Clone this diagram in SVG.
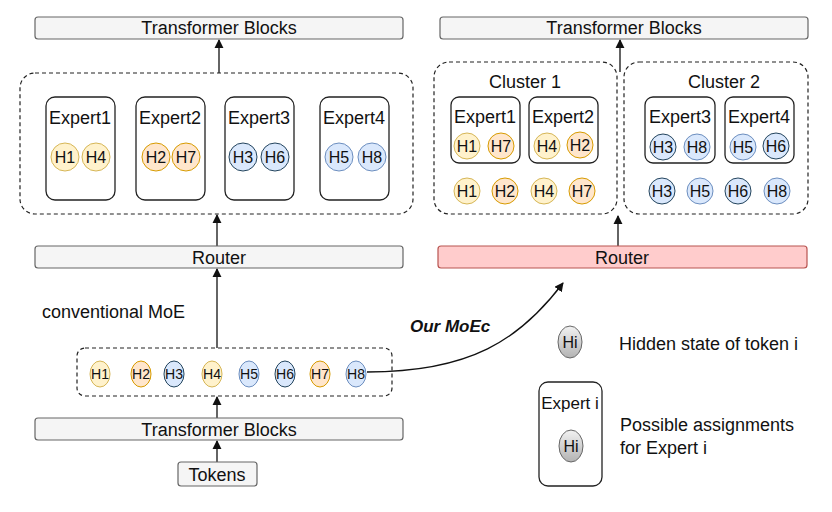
<svg xmlns="http://www.w3.org/2000/svg" width="832" height="512" viewBox="0 0 832 512">
<style>
text{font-family:"Liberation Sans",Arial,sans-serif;fill:#111}
.bar{fill:#f5f5f5;stroke:#666;stroke-width:1.2}
.dash{fill:none;stroke:#222;stroke-width:1.2;stroke-dasharray:4 3}
.ex{fill:#fff;stroke:#222;stroke-width:1.3}
.y{fill:#fff2cc;stroke:#d6b656}
.o{fill:#ffe6cc;stroke:#d79b00}
.b{fill:#dae8fc;stroke:#23445d}
.l{fill:#dae8fc;stroke:#6c8ebf}
.g{fill:url(#gg);stroke:#666}
.t16{font-size:18px;text-anchor:middle}
.h{font-size:16px;text-anchor:middle}
.k{font-size:15px;text-anchor:middle}
.lg{font-size:18px}
.c{stroke:#111;stroke-width:1.3;fill:none;marker-end:url(#ah)}
</style>
<defs>
<marker id="ah" viewBox="0 0 10 10" refX="9" refY="5" markerWidth="7" markerHeight="7" orient="auto"><path d="M0,0 L10,5 L0,10 z" fill="#111"/></marker>
<linearGradient id="gg" x1="0" y1="0" x2="0" y2="1"><stop offset="0" stop-color="#f2f2f2"/><stop offset="1" stop-color="#b3b3b3"/></linearGradient>
</defs>
<g id="connectors">
<path class="c" d="M219,73 V40"/>
<path class="c" d="M217,246 V215"/>
<path class="c" d="M217,348 V269"/>
<path class="c" d="M217,418 V397"/>
<path class="c" d="M217,462 V441"/>
<path class="c" d="M620,72 V40"/>
<path class="c" d="M618,246 V216"/>
<path class="c" d="M367,372 C470,372 520,340 563,283"/>
</g>
<g id="tb-left"><rect class="bar" x="35" y="17" width="368" height="22" rx="3"/><text class="t16" x="219" y="34">Transformer Blocks</text></g>
<g id="moe-left">
<rect class="dash" x="20" y="73" width="393" height="141" rx="15"/>
<g id="e1"><rect class="ex" x="46" y="97" width="69" height="103" rx="9"/><text class="t16" x="80" y="124">Expert1</text>
<circle class="y" cx="65" cy="157" r="14"/><text class="h" x="65" y="163">H1</text><circle class="y" cx="96" cy="157" r="14"/><text class="h" x="96" y="163">H4</text></g>
<g id="e2"><rect class="ex" x="136" y="97" width="69" height="103" rx="9"/><text class="t16" x="170" y="124">Expert2</text>
<circle class="o" cx="156" cy="157" r="14"/><text class="h" x="156" y="163">H2</text><circle class="o" cx="186" cy="157" r="14"/><text class="h" x="186" y="163">H7</text></g>
<g id="e3"><rect class="ex" x="225" y="97" width="69" height="103" rx="9"/><text class="t16" x="259" y="124">Expert3</text>
<circle class="b" cx="243" cy="157" r="14"/><text class="h" x="243" y="163">H3</text><circle class="b" cx="275" cy="157" r="14"/><text class="h" x="275" y="163">H6</text></g>
<g id="e4"><rect class="ex" x="320" y="97" width="69" height="103" rx="9"/><text class="t16" x="354" y="124">Expert4</text>
<circle class="l" cx="339" cy="157" r="14"/><text class="h" x="339" y="163">H5</text><circle class="l" cx="372" cy="157" r="14"/><text class="h" x="372" y="163">H8</text></g>
</g>
<g id="router-left"><rect class="bar" x="35" y="246" width="368" height="22" rx="3"/><text class="t16" x="219" y="264">Router</text></g>
<text class="lg" x="42" y="318">conventional MoE</text>
<g id="tokens-hidden">
<rect class="dash" x="77" y="348" width="315" height="48" rx="8"/>
<ellipse class="y" cx="100" cy="374" rx="10" ry="13"/><text class="k" x="100" y="379" textLength="18" lengthAdjust="spacingAndGlyphs">H1</text>
<ellipse class="o" cx="141" cy="374" rx="10" ry="13"/><text class="k" x="141" y="379" textLength="18" lengthAdjust="spacingAndGlyphs">H2</text>
<ellipse class="b" cx="174" cy="374" rx="10" ry="13"/><text class="k" x="174" y="379" textLength="18" lengthAdjust="spacingAndGlyphs">H3</text>
<ellipse class="y" cx="212" cy="374" rx="10" ry="13"/><text class="k" x="212" y="379" textLength="18" lengthAdjust="spacingAndGlyphs">H4</text>
<ellipse class="l" cx="249" cy="374" rx="10" ry="13"/><text class="k" x="249" y="379" textLength="18" lengthAdjust="spacingAndGlyphs">H5</text>
<ellipse class="b" cx="285" cy="374" rx="10" ry="13"/><text class="k" x="285" y="379" textLength="18" lengthAdjust="spacingAndGlyphs">H6</text>
<ellipse class="o" cx="320" cy="374" rx="10" ry="13"/><text class="k" x="320" y="379" textLength="18" lengthAdjust="spacingAndGlyphs">H7</text>
<ellipse class="l" cx="356" cy="374" rx="10" ry="13"/><text class="k" x="356" y="379" textLength="18" lengthAdjust="spacingAndGlyphs">H8</text>
</g>
<g id="tb-bottom"><rect class="bar" x="35" y="418" width="368" height="22" rx="3"/><text class="t16" x="219" y="436">Transformer Blocks</text></g>
<g id="tokens"><rect class="bar" x="178" y="462" width="79" height="24" rx="3"/><text class="t16" x="217" y="481">Tokens</text></g>
<g id="tb-right"><rect class="bar" x="440" y="17" width="368" height="22" rx="3"/><text class="t16" x="624" y="34">Transformer Blocks</text></g>
<g id="cluster1">
<rect class="dash" x="434" y="62" width="183" height="152" rx="15"/>
<text class="t16" x="525" y="88">Cluster 1</text>
<rect class="ex" x="451" y="97" width="69" height="66" rx="8"/><text class="t16" x="485" y="123">Expert1</text>
<circle class="y" cx="467" cy="146" r="13"/><text class="h" x="467" y="152">H1</text><circle class="o" cx="501" cy="146" r="13"/><text class="h" x="501" y="152">H7</text>
<rect class="ex" x="529" y="97" width="69" height="66" rx="8"/><text class="t16" x="563" y="123">Expert2</text>
<circle class="y" cx="547" cy="146" r="13"/><text class="h" x="547" y="152">H4</text><circle class="o" cx="580" cy="145" r="13"/><text class="h" x="580" y="151">H2</text>
<circle class="y" cx="467" cy="191" r="13"/><text class="h" x="467" y="197">H1</text>
<circle class="o" cx="505" cy="191" r="13"/><text class="h" x="505" y="197">H2</text>
<circle class="y" cx="544" cy="191" r="13"/><text class="h" x="544" y="197">H4</text>
<circle class="o" cx="582" cy="191" r="13"/><text class="h" x="582" y="197">H7</text>
</g>
<g id="cluster2">
<rect class="dash" x="624" y="62" width="184" height="152" rx="15"/>
<text class="t16" x="724" y="88">Cluster 2</text>
<rect class="ex" x="645" y="97" width="70" height="66" rx="8"/><text class="t16" x="680" y="123">Expert3</text>
<circle class="b" cx="663" cy="147" r="13"/><text class="h" x="663" y="153">H3</text><circle class="l" cx="697" cy="147" r="13"/><text class="h" x="697" y="153">H8</text>
<rect class="ex" x="725" y="97" width="69" height="66" rx="8"/><text class="t16" x="759" y="123">Expert4</text>
<circle class="l" cx="743" cy="147" r="13"/><text class="h" x="743" y="153">H5</text><circle class="b" cx="776" cy="146" r="13"/><text class="h" x="776" y="152">H6</text>
<circle class="b" cx="662" cy="191" r="13"/><text class="h" x="662" y="197">H3</text>
<circle class="l" cx="700" cy="191" r="13"/><text class="h" x="700" y="197">H5</text>
<circle class="b" cx="738" cy="191" r="13"/><text class="h" x="738" y="197">H6</text>
<circle class="l" cx="777" cy="191" r="13"/><text class="h" x="777" y="197">H8</text>
</g>
<g id="router-right"><rect x="438" y="246" width="369" height="22" rx="3" fill="#ffcccc" stroke="#b85450" stroke-width="1.2"/><text class="t16" x="622" y="264">Router</text></g>
<text x="410" y="332" style="font-size:17px;font-weight:bold;font-style:italic">Our MoEc</text>
<g id="legend-hidden"><ellipse class="g" cx="570" cy="342" rx="12" ry="16"/><text class="h" x="570" y="348">Hi</text>
<text class="lg" x="619" y="350">Hidden state of token i</text></g>
<g id="legend-expert"><rect class="ex" x="539" y="382" width="63" height="104" rx="9"/><text class="k" x="570" y="409" style="font-size:17px">Expert i</text>
<ellipse class="g" cx="571" cy="446" rx="12" ry="16"/><text class="h" x="571" y="452">Hi</text>
<text class="lg" x="620" y="431">Possible assignments</text><text class="lg" x="620" y="454">for Expert i</text></g>
</svg>
